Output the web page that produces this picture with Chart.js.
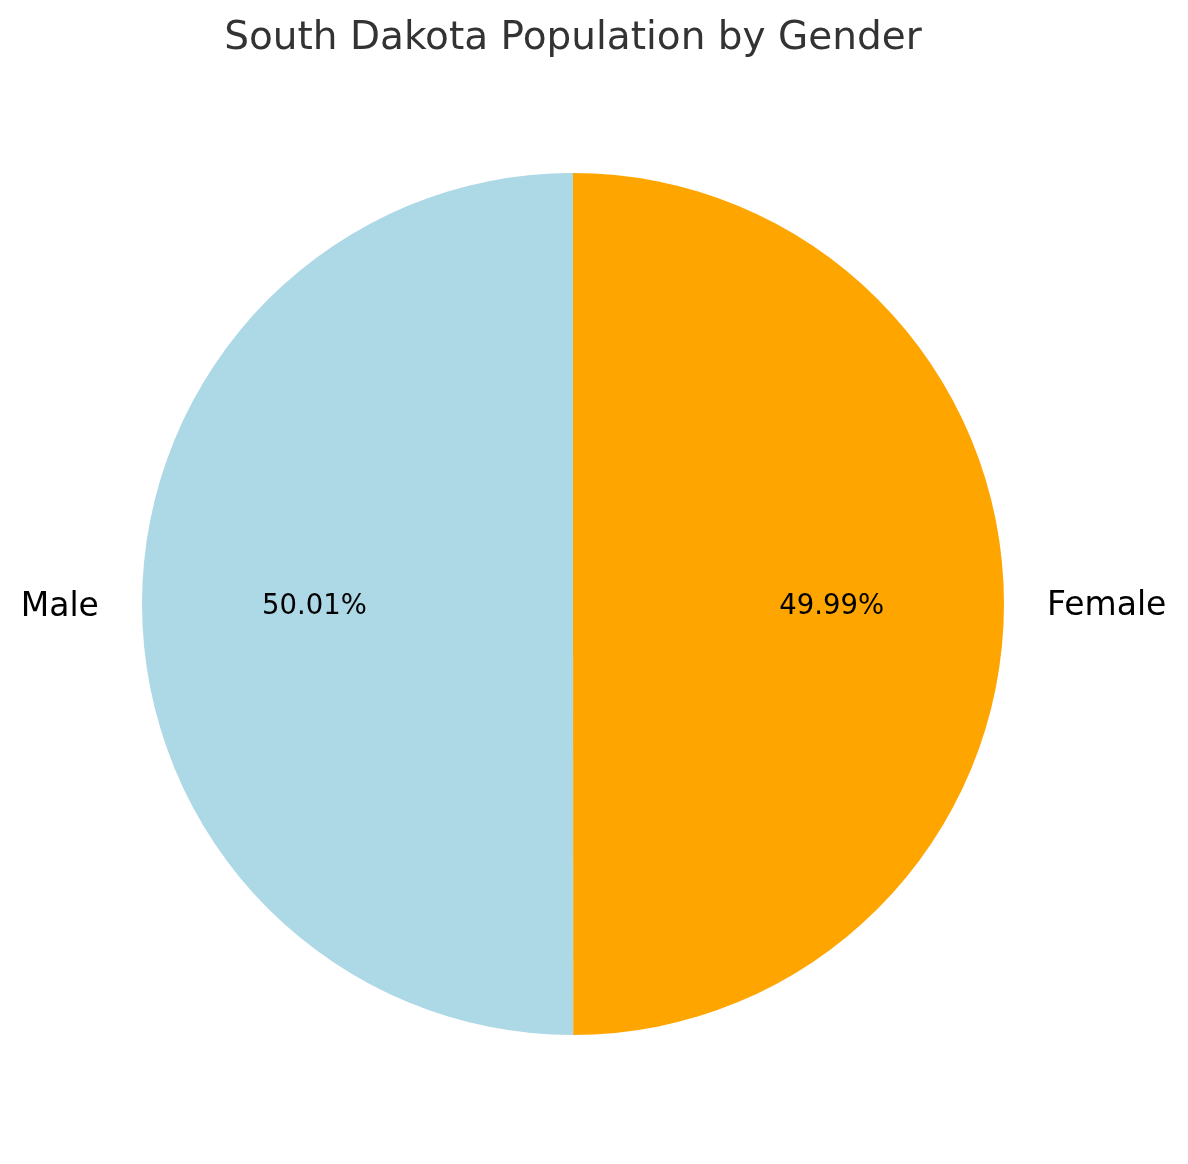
<!DOCTYPE html>
<html>
<head>
<meta charset="utf-8">
<script src="https://cdn.jsdelivr.net/npm/chart.js@4/dist/chart.umd.min.js"></script>
<style>
html,body{margin:0;padding:0;background:#fff;}
#wrap{width:1188px;height:1164px;}
</style>
</head>
<body>
<div id="wrap"><canvas id="c" width="1188" height="1164"></canvas></div>
<script>
const categories = ["Male", "Female"];
const shares = [50.01, 49.99];
const colors = ["#ADD8E6", "#FFA500"];
const titleText = "South Dakota Population by Gender";

const labelPlugin = {
  id: 'pieLabels',
  afterDatasetsDraw(chart) {
    const ctx = chart.ctx;
    const meta = chart.getDatasetMeta(0);
    const total = shares.reduce((a, b) => a + b, 0);
    meta.data.forEach((arc, i) => {
      const p = arc.getProps(['x', 'y', 'startAngle', 'endAngle', 'outerRadius']);
      const mid = (p.startAngle + p.endAngle) / 2;
      const cx = Math.cos(mid), cy = Math.sin(mid);
      ctx.save();
      ctx.fillStyle = '#000';
      ctx.textBaseline = 'middle';
      ctx.font = '33px "DejaVu Sans"';
      const lx = p.x + cx * p.outerRadius * 1.1;
      const ly = p.y + cy * p.outerRadius * 1.1 + 3;
      ctx.textAlign = cx < 0 ? 'right' : 'left';
      ctx.fillText(categories[i], lx, ly);
      ctx.font = '27.5px "DejaVu Sans"';
      ctx.textAlign = 'center';
      const pct = (shares[i] / total * 100).toFixed(2) + '%';
      ctx.fillText(pct, p.x + cx * p.outerRadius * 0.6, p.y + cy * p.outerRadius * 0.6 + 3);
      ctx.restore();
    });
  }
};

new Chart(document.getElementById('c'), {
  type: 'pie',
  data: {
    labels: categories,
    datasets: [{
      data: shares,
      backgroundColor: colors,
      borderWidth: 0,
      hoverOffset: 0
    }]
  },
  options: {
    responsive: false,
    animation: false,
    rotation: 180 - shares[0] * 3.6 + 180,
    layout: { padding: { left: 142, right: 184, top: 0, bottom: 129 } },
    plugins: {
      legend: { display: false },
      tooltip: { enabled: false },
      title: {
        display: true,
        text: titleText,
        color: '#333333',
        font: { family: 'DejaVu Sans', size: 39, weight: 'normal' },
        padding: { top: 15, bottom: 111.2 }
      }
    }
  },
  plugins: [labelPlugin]
});
</script>
</body>
</html>
